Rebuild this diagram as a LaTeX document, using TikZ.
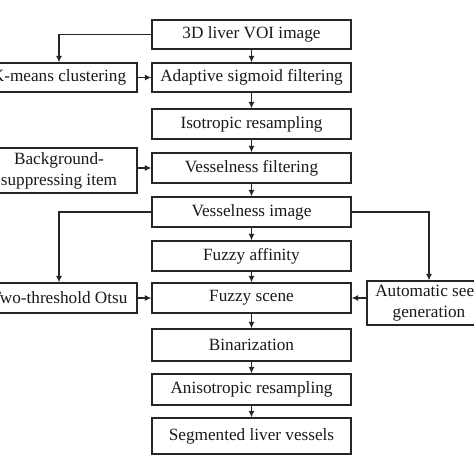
\documentclass[tikz,border=0pt]{standalone}
\usepackage{fontspec}
\setmainfont{Liberation Serif}
\usetikzlibrary{arrows.meta}
\begin{document}
\begin{tikzpicture}[x=1pt,y=-1pt,
  box/.style={draw=black!85,line width=1.2pt,inner sep=0pt,align=center,text=black!90,
    font=\fontsize{17.2}{21}\selectfont},
  arr/.style={draw=black!85,line width=1.2pt,-{Latex[length=6.5pt,width=6pt]}}]
\clip (0,0) rectangle (474,474);
\fill[white] (0,0) rectangle (474,474);
\node[box,minimum width=199pt,minimum height=29pt] (voi) at (251.5,34.5) {3D liver VOI image};
\node[box,minimum width=199pt,minimum height=29pt] (sig) at (251.5,77.5) {Adaptive sigmoid filtering};
\node[box,minimum width=199pt,minimum height=30pt] (iso) at (251.5,124) {Isotropic resampling};
\node[box,minimum width=199pt,minimum height=30pt] (vf) at (251.5,168) {Vesselness filtering};
\node[box,minimum width=199pt,minimum height=30pt] (vi) at (251.5,212) {Vesselness image};
\node[box,minimum width=199pt,minimum height=30pt] (fa) at (251.5,256) {Fuzzy affinity};
\node[box,minimum width=199pt,minimum height=30pt] (fs) at (251.5,298) {Fuzzy scene};
\node[box,minimum width=199pt,minimum height=32pt] (bin) at (251.5,345) {Binarization};
\node[box,minimum width=199pt,minimum height=31pt] (ani) at (251.5,389.5) {Anisotropic resampling};
\node[box,minimum width=199pt,minimum height=36pt] (seg) at (251.5,436) {Segmented liver vessels};
\node[box,minimum width=156pt,minimum height=29pt] (km) at (59,77.5) {K-means clustering};
\node[box,minimum width=156pt,minimum height=45pt] (bg) at (59,170.5) {Background-\\suppressing item};
\node[box,minimum width=156pt,minimum height=30pt] (otsu) at (59,298) {Two-threshold Otsu};
\node[box,minimum width=124pt,minimum height=44pt] (seed) at (429,303) {Automatic seed\\generation};
\draw[arr] (voi) -- (sig);
\draw[arr] (sig) -- (iso);
\draw[arr] (iso) -- (vf);
\draw[arr] (vf) -- (vi);
\draw[arr] (vi) -- (fa);
\draw[arr] (fa) -- (fs);
\draw[arr] (fs) -- (bin);
\draw[arr] (bin) -- (ani);
\draw[arr] (ani) -- (seg);
\draw[arr] (voi.west) -| (km.north);
\draw[arr] (km.east |- sig) -- (sig.west);
\draw[arr] (bg.east |- vf) -- (vf.west);
\draw[arr] (vi.west) -| (otsu.north);
\draw[arr] (vi.east) -| (seed.north);
\draw[arr] (otsu.east |- fs) -- (fs.west);
\draw[arr] (seed.west |- fs) -- (fs.east);
\end{tikzpicture}
\end{document}
